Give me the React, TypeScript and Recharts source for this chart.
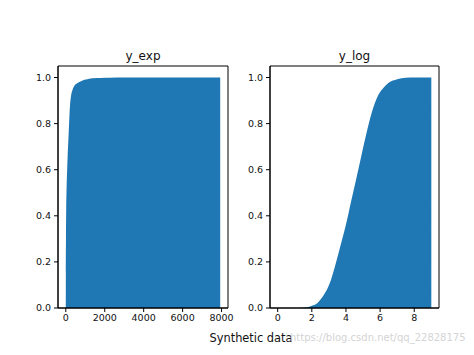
import { AreaChart, Area, XAxis, YAxis, ReferenceArea } from 'recharts';

// y_exp: cumulative histogram
const expX = [0, 3, 10, 20, 38, 70, 100, 141, 185, 227, 280, 348, 450, 606, 780, 951, 1150, 1380, 1800, 2243, 3000, 4000, 7930];
const expY = [0, 0.15, 0.3, 0.42, 0.51, 0.6, 0.67, 0.744, 0.83, 0.889, 0.925, 0.947, 0.965, 0.976, 0.984, 0.99, 0.994, 0.997, 0.998, 0.999, 1.0, 1.0, 1.0];

// y_log: cumulative histogram, right panel
const logX = [0, 1.2, 1.7, 2.0, 2.3, 2.7, 3.05, 3.35, 3.65, 4.0, 4.3, 4.6, 4.9, 5.2, 5.5, 5.9, 6.2, 6.5, 7.0, 7.5, 8.0, 9.0];
const logY = [0, 0, 0.003, 0.01, 0.02, 0.056, 0.107, 0.179, 0.262, 0.362, 0.462, 0.56, 0.66, 0.758, 0.845, 0.925, 0.956, 0.977, 0.993, 0.999, 1.0, 1.0];

const yTicks = [0, 0.2, 0.4, 0.6, 0.8, 1.0];
const expTicks = [0, 2000, 4000, 6000, 8000];
const logTicks = [0, 2, 4, 6, 8];

const expData = expX.map((x, i) => ({ x, y: expY[i] }));
const logData = logX.map((x, i) => ({ x, y: logY[i] }));

const FONT = '"DejaVu Sans", sans-serif';
const BLUE = '#1f77b4';
const Y_DOMAIN: [number, number] = [0, 1.05];
const tickStyle = { fontSize: 9.5, fill: '#111', fontFamily: FONT };

interface PanelProps {
  data: { x: number; y: number }[];
  xDomain: [number, number];
  xTicks: number[];
  width: number;
  margin: { top: number; right: number; bottom: number; left: number };
  yWidth: number;
}

function Panel({ data, xDomain, xTicks, width, margin, yWidth }: PanelProps) {
  return (
    <AreaChart width={width} height={355} data={data} margin={margin}>
      <XAxis
        dataKey="x"
        type="number"
        domain={xDomain}
        allowDataOverflow
        ticks={xTicks}
        tick={tickStyle}
        tickSize={4}
        tickMargin={2}
        height={30}
        stroke="#000"
        interval={0}
      />
      <YAxis
        type="number"
        domain={Y_DOMAIN}
        allowDataOverflow
        ticks={yTicks}
        tickFormatter={(v: number) => v.toFixed(1)}
        tick={tickStyle}
        tickSize={4}
        tickMargin={3}
        width={yWidth}
        stroke="#000"
        interval={0}
      />
      <Area
        dataKey="y"
        type="monotoneX"
        fill={BLUE}
        fillOpacity={1}
        stroke="none"
        isAnimationActive={false}
        dot={false}
        activeDot={false}
      />
      {/* axes frame (matplotlib spines) */}
      <ReferenceArea
        x1={xDomain[0]}
        x2={xDomain[1]}
        y1={Y_DOMAIN[0]}
        y2={Y_DOMAIN[1]}
        fill="none"
        fillOpacity={0}
        stroke="#000"
        strokeWidth={1}
        strokeOpacity={1}
      />
    </AreaChart>
  );
}

export default function App() {
  return (
    <div style={{ position: 'fixed', left: 0, top: 0, width: 474, height: 355, background: '#fff', fontFamily: FONT, color: '#111' }}>
      <div style={{ position: 'absolute', left: 0, top: 0 }}>
        <Panel
          data={expData}
          xDomain={[-400, 8330]}
          xTicks={expTicks}
          width={237}
          margin={{ top: 66, right: 9, bottom: 17, left: 18 }}
          yWidth={40}
        />
      </div>
      <div style={{ position: 'absolute', left: 237, top: 0 }}>
        <Panel
          data={logData}
          xDomain={[-0.45, 9.45]}
          xTicks={logTicks}
          width={237}
          margin={{ top: 66, right: 35, bottom: 17, left: 3 }}
          yWidth={30}
        />
      </div>
      <div style={{ position: 'absolute', left: 58, width: 170, top: 49, lineHeight: '14px', fontSize: 12, textAlign: 'center' }}>y_exp</div>
      <div style={{ position: 'absolute', left: 270, width: 169, top: 49, lineHeight: '14px', fontSize: 12, textAlign: 'center' }}>y_log</div>
      <div style={{ position: 'absolute', left: 151, width: 200, top: 331, lineHeight: '14px', fontSize: 11.4, textAlign: 'center' }}>Synthetic data</div>
      <div style={{ position: 'absolute', left: 290, top: 332, lineHeight: '12px', fontSize: 10, color: '#d4d4d4' }}>https://blog.csdn.net/qq_22828175</div>
    </div>
  );
}
